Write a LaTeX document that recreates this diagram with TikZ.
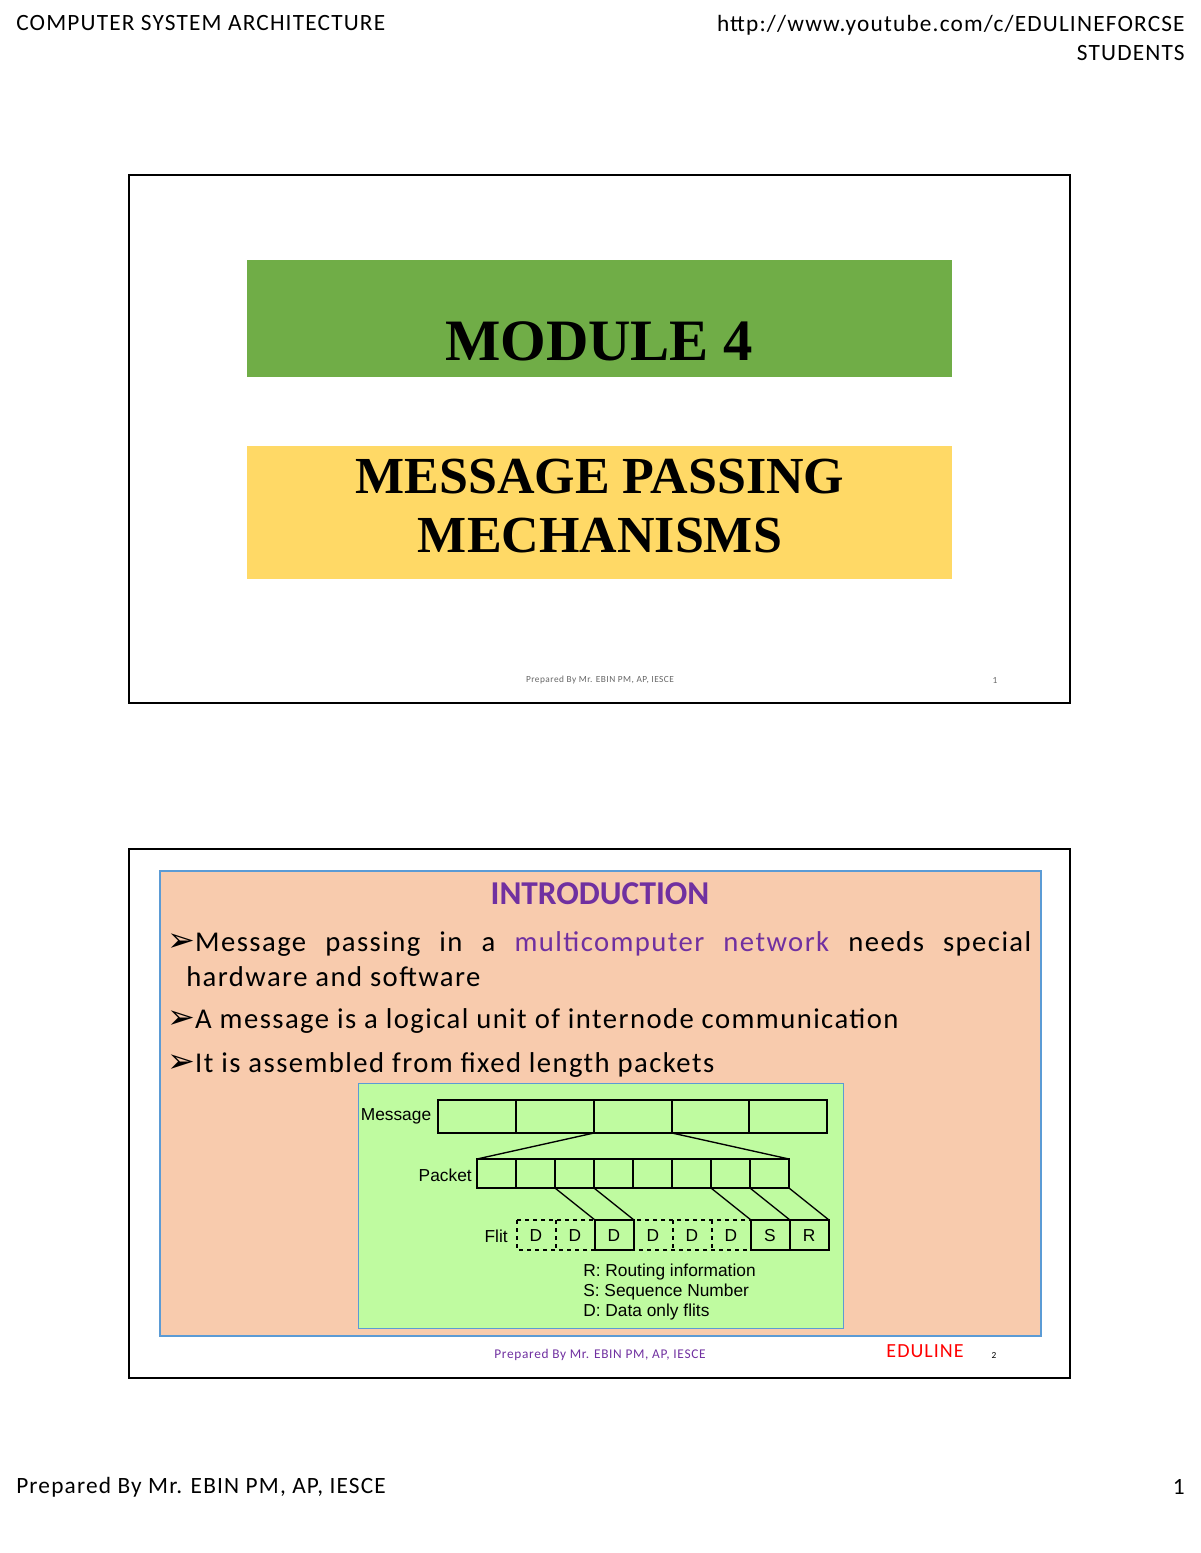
\documentclass[tikz,border=0pt]{standalone}
\usepackage{fontspec}
\setmainfont{Carlito}
\newfontfamily\tnr{Liberation Serif}
\newfontfamily\ari{Liberation Sans}
\newfontfamily\dvs{DejaVu Sans}
\newfontfamily\wide[LetterSpace=5]{Carlito}
\definecolor{grn}{HTML}{70AD47}
\definecolor{ylw}{HTML}{FFD966}
\definecolor{sal}{HTML}{F8CBAD}
\definecolor{lgr}{HTML}{BFFBA0}
\definecolor{pur}{HTML}{7030A0}
\definecolor{bdr}{HTML}{5B9BD5}
\newcommand{\arr}{{\dvs\bfseries\fontsize{25}{20}\selectfont ➢}}
\begin{document}
\begin{tikzpicture}[x=0.75pt,y=-0.75pt,
  cell/.style={draw,line width=1pt},
  lbl/.style={font=\ari\fontsize{13}{13}\selectfont,inner sep=0pt},
  bul/.style={anchor=west,font=\wide\fontsize{21.5}{24}\selectfont,inner sep=0pt}]
\useasboundingbox (0,0) rectangle (1200,1553);
% header
\node[anchor=west,font=\wide\fontsize{17.5}{20}\selectfont,inner sep=0pt] (h1) at (16,23) {COMPUTER SYSTEM ARCHITECTURE};
\node[anchor=east,font=\wide\fontsize{17.5}{22}\selectfont,align=right,inner sep=0pt] (h2) at (1185,38) {http://www.youtube.com/c/EDULINEFORCSE\\STUDENTS};
\node[anchor=west,font=\wide\fontsize{17.5}{20}\selectfont,inner sep=0pt] (f1) at (16,1487) {Prepared By Mr. EBIN PM, AP, IESCE};
\node[anchor=east,font=\wide\fontsize{17.5}{20}\selectfont,inner sep=0pt] (f2) at (1185,1487) {1};
% slide 1
\draw[line width=1.5pt] (129,175) rectangle (1070,703);
\fill[grn] (247,260) rectangle (952,377);
\node[font=\tnr\bfseries\fontsize{44}{48}\selectfont] (t1) at (599,341) {MODULE 4};
\fill[ylw] (247,446) rectangle (952,579);
\node[font=\tnr\bfseries\fontsize{39}{44}\selectfont,align=center] (t2) at (600,506) {MESSAGE PASSING\\MECHANISMS};
\node[font=\wide\fontsize{7}{8}\selectfont,text=gray!80!black] (p1) at (600,680) {Prepared By Mr. EBIN PM, AP, IESCE};
\node[font=\fontsize{7}{8}\selectfont,text=gray!80!black] (n1) at (995,680) {1};
% slide 2
\draw[line width=1.5pt] (129,849) rectangle (1070,1378);
\draw[bdr,fill=sal,line width=1pt] (160,871) rectangle (1041,1336);
\node[font=\bfseries\fontsize{25}{28}\selectfont,text=pur] (it) at (600,894) {INTRODUCTION};
\node[bul] (b1) at (167,944) {\makebox[648pt][s]{\arr Message passing in a \textcolor{pur}{multicomputer network} needs special}};
\node[bul] (b1b) at (186,977) {hardware and software};
\node[bul] (b2) at (167,1021) {\arr A message is a logical unit of internode communication};
\node[bul] (b3) at (167,1065) {\arr It is assembled from fixed length packets};
\draw[bdr,fill=lgr] (358,1083) rectangle (843,1328);
% message row
\draw[cell] (438,1100) rectangle (827,1133);
\foreach \x in {516,594,672,749} \draw[cell] (\x,1100) -- (\x,1133);
\node[lbl] (lm) at (396,1116) {Message};
% packet row
\draw[cell] (477,1159) rectangle (789,1188);
\foreach \x in {516,555,594,633,672,711,750} \draw[cell] (\x,1159) -- (\x,1188);
\node[lbl,anchor=east] (lp) at (472,1175) {Packet};
\draw[cell] (594,1133) -- (477,1159);
\draw[cell] (672,1133) -- (789,1159);
% flit row
\draw[line width=1pt,dashed] (517,1220) rectangle (829,1250);
\foreach \x in {556,673,712} \draw[line width=1pt,dashed] (\x,1220) -- (\x,1250);
\draw[cell] (595,1220) rectangle (634,1250);
\draw[cell] (751,1220) rectangle (829,1250);
\draw[cell] (790,1220) -- (790,1250);
\foreach \l/\x in {D/536,D/575,D/614,D/653,D/692,D/731,S/770,R/809} \node[lbl] at (\x,1236) {\l};
\node[lbl,anchor=east] (lf) at (508,1236) {Flit};
\draw[cell] (555,1188) -- (595,1220);
\draw[cell] (594,1188) -- (634,1220);
\draw[cell] (711,1188) -- (751,1220);
\draw[cell] (750,1188) -- (790,1220);
\draw[cell] (789,1188) -- (829,1220);
\node[lbl,anchor=west,align=left,font=\ari\fontsize{13}{15}\selectfont] (lg) at (583,1292) {R: Routing information\\S: Sequence Number\\D: Data only flits};
\node[font=\wide\fontsize{10}{11}\selectfont,text=pur] (p2) at (600,1355) {Prepared By Mr. EBIN PM, AP, IESCE};
\node[font=\wide\fontsize{15}{16}\selectfont,text=red] (ed) at (925,1351) {EDULINE};
\node[font=\fontsize{7}{8}\selectfont] (n2) at (994,1355) {2};
\end{tikzpicture}
\end{document}
